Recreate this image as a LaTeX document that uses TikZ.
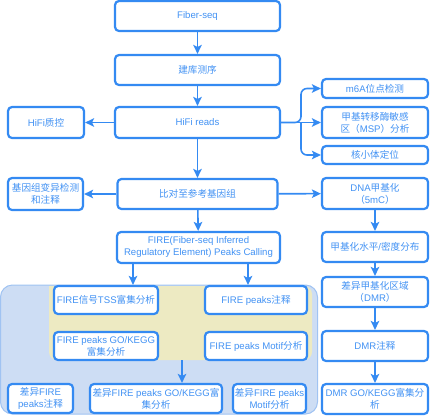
\documentclass[tikz,border=0pt]{standalone}
\usepackage{fontspec}
\setmainfont{Liberation Sans}
\newfontfamily\cjk{Noto Sans CJK SC}
\usetikzlibrary{arrows.meta}
\definecolor{bd}{RGB}{52,138,242}
\definecolor{tx}{RGB}{66,146,244}
\definecolor{bluebg}{RGB}{205,221,244}
\definecolor{blueln}{RGB}{160,195,242}
\definecolor{yelbg}{RGB}{237,234,194}
\tikzset{
  bx/.style={draw=bd, line width=2.2pt, rounded corners=4pt, fill=white, text=tx,
    align=center, inner sep=0pt, font=\fontsize{9.6}{12}\selectfont},
  arr/.style={draw=bd, line width=1.6pt, -{Stealth[length=9pt,width=8.5pt,inset=2pt]}},
}
\begin{document}
\begin{tikzpicture}[x=1pt,y=-1pt]
\useasboundingbox (0,0) rectangle (431,416);
% background regions
\node[draw=blueln, line width=1pt, fill=bluebg, rounded corners=12pt, minimum width=317pt, minimum height=129pt, inner sep=0pt] (bluereg) at (159,349.5) {};
\fill[yelbg, rounded corners=8pt] (49,286) -- (312,286) -- (312,360) -- (49,360) [sharp corners] -- cycle;
\coordinate (ys) at (182,360);
% main column
\node[bx, minimum width=165pt, minimum height=30pt] (fiber) at (197.5,16) {Fiber-seq};
\node[bx, minimum width=165pt, minimum height=30pt] (lib) at (197.5,70) {\cjk 建库测序};
\node[bx, minimum width=165pt, minimum height=31pt] (hifi) at (197.5,122.5) {HiFi reads};
\node[bx, minimum width=76pt, minimum height=31pt] (qc) at (46,122.5) {HiFi{\cjk 质控}};
\node[bx, minimum width=106pt, minimum height=19pt] (m6a) at (375,88.5) {m6A{\cjk 位点检测}};
\node[bx, minimum width=106pt, minimum height=31pt] (msp) at (375,122.5) {{\cjk 甲基转移酶敏感}\\{\cjk 区（}MSP{\cjk ）分析}};
\node[bx, minimum width=106pt, minimum height=18pt] (nuc) at (375,155) {\cjk 核小体定位};
\node[bx, minimum width=160pt, minimum height=30pt] (align) at (197.5,194) {\cjk 比对至参考基因组};
\node[bx, minimum width=75pt, minimum height=32pt] (var) at (45.5,194) {{\cjk 基因组变异检测}\\{\cjk 和注释}};
\node[bx, minimum width=106pt, minimum height=31pt] (dna) at (375,193.5) {DNA{\cjk 甲基化}\\{\cjk （}5mC{\cjk ）}};
\node[bx, minimum width=163pt, minimum height=31pt] (fire) at (198.5,247.5) {FIRE(Fiber-seq Inferred\\Regulatory Element) Peaks Calling};
\node[bx, minimum width=106pt, minimum height=30pt] (meth) at (375,247) {{\cjk 甲基化水平}/{\cjk 密度分布}};
\node[bx, minimum width=106pt, minimum height=30pt] (dmr) at (375,292) {{\cjk 差异甲基化区域}\\{\cjk （}DMR{\cjk ）}};
\node[bx, minimum width=106pt, minimum height=30pt] (dmrann) at (375,346) {DMR{\cjk 注释}};
\node[bx, minimum width=106pt, minimum height=30pt] (dmrgo) at (375,399) {DMR GO/KEGG{\cjk 富集分}\\{\cjk 析}};
% inner boxes
\node[bx, minimum width=104pt, minimum height=28pt] (tss) at (106,300) {FIRE{\cjk 信号}TSS{\cjk 富集分析}};
\node[bx, minimum width=102pt, minimum height=28pt] (ann) at (256,300) {FIRE peaks{\cjk 注释}};
\node[bx, minimum width=104pt, minimum height=28pt] (go) at (106,346) {FIRE peaks GO/KEGG\\{\cjk 富集分析}};
\node[bx, minimum width=102pt, minimum height=28pt] (motif) at (256,346) {FIRE peaks Motif{\cjk 分析}};
\node[bx, minimum width=65pt, minimum height=29pt] (dann) at (40.5,398.5) {{\cjk 差异}FIRE\\peaks{\cjk 注释}};
\node[bx, minimum width=132pt, minimum height=29pt] (dgo) at (156,398.5) {{\cjk 差异}FIRE peaks GO/KEGG{\cjk 富}\\{\cjk 集分析}};
\node[bx, minimum width=73pt, minimum height=29pt] (dmotif) at (269.5,398.5) {{\cjk 差异}FIRE peaks\\Motif{\cjk 分析}};
% connectors
\draw[arr] (fiber) -- (lib);
\draw[arr] (lib) -- (hifi);
\draw[arr] (hifi) -- (qc);
\draw[arr] (hifi) -- (align);
\coordinate (br) at (301,122.5);
\draw[arr, rounded corners=6pt] (hifi.east) -- (br) |- (m6a.west);
\draw[arr] (hifi.east) -- (msp.west);
\draw[arr, rounded corners=6pt] (br) |- (nuc.west);
\draw[arr] (align) -- (var);
\draw[arr] (align) -- (dna);
\draw[arr] (align) -- (fire);
\draw[arr] (dna) -- (meth);
\draw[arr] (meth) -- (dmr);
\draw[arr] (dmr) -- (dmrann);
\draw[arr] (dmrann) -- (dmrgo);
\coordinate (fa) at (133,0);
\coordinate (fb) at (248,0);
\draw[arr] (fire.south -| fa) -- (tss.north -| fa);
\draw[arr] (fire.south -| fb) -- (ann.north -| fb);
\draw[arr] (ys) -- (dgo.north -| ys);
\end{tikzpicture}
\end{document}
